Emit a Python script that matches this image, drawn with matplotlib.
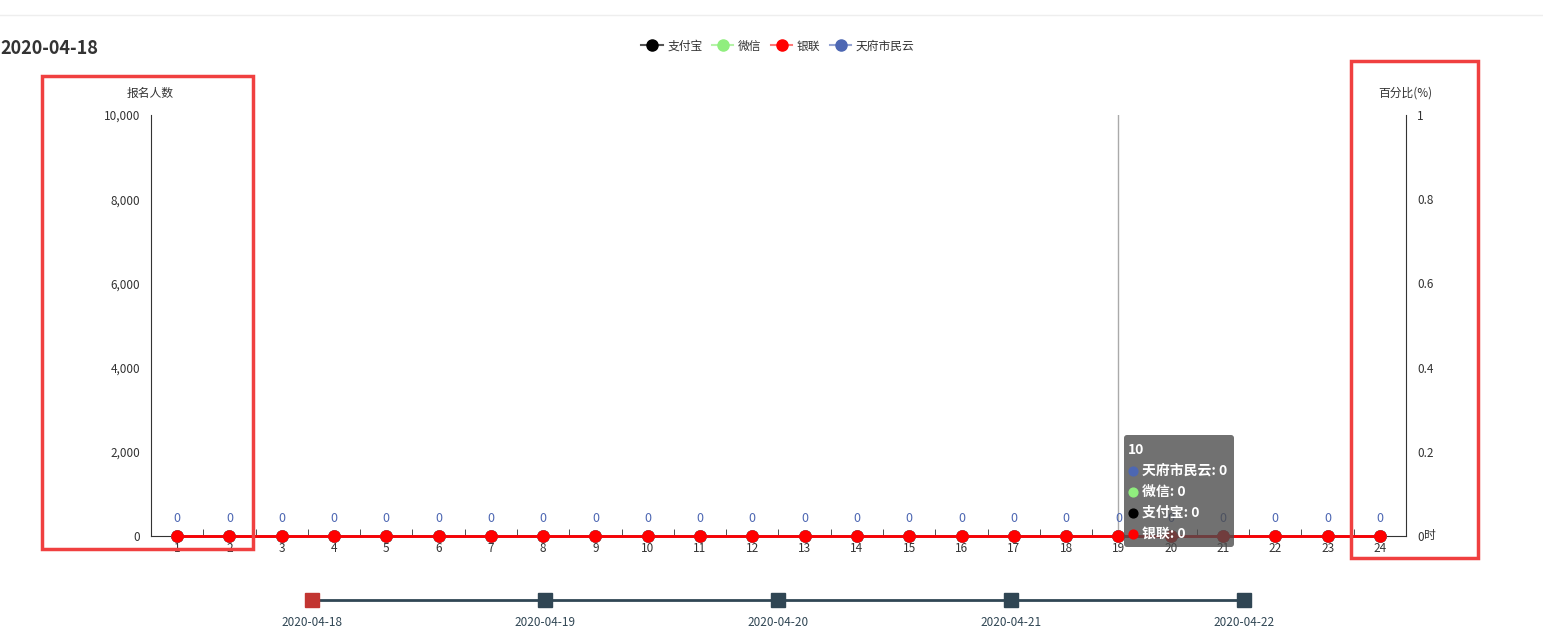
import matplotlib
matplotlib.use("Agg")
import matplotlib.pyplot as plt
from matplotlib.patches import Rectangle, FancyBboxPatch
from matplotlib.lines import Line2D

plt.rcParams['font.family'] = ['Noto Sans CJK SC', 'DejaVu Sans']

hours = list(range(1, 25))
alipay = [0]*24
wechat = [0]*24
unionpay = [0]*24
tianfu = [0]*24
series = [("支付宝", alipay, "#000000"), ("微信", wechat, "#90ee7e"),
          ("天府市民云", tianfu, "#4d67b3"), ("银联", unionpay, "#ff0000")]
legend_order = ["支付宝", "微信", "银联", "天府市民云"]
dates = ["2020-04-18", "2020-04-19", "2020-04-20", "2020-04-21", "2020-04-22"]
title = "2020-04-18"

W, H = 1543, 640
fig = plt.figure(figsize=(W/100, H/100), dpi=100)
ax = fig.add_axes([151/W, 1-536/H, 1255/W, 421/H])
ax.set_xlim(0.5, 24.5)
ax.set_ylim(0, 10000)
colors = {}
for name, vals, c in series:
    colors[name] = c
    ax.plot(hours, vals, color=c, lw=2, marker='o', ms=8, label=name, zorder=3, clip_on=False)
for x, v in zip(hours, tianfu):
    ax.annotate(str(v), (x, v), xytext=(0, 8), textcoords='offset points', ha='center',
                va='bottom', color='#4d67b3', fontsize=9)
ax.set_xticks(hours)
ax.set_xticks([h+0.5 for h in range(0, 25)], minor=True)
ax.tick_params(axis='x', which='major', length=0, labelsize=8.5, colors='#333', pad=4)
ax.tick_params(axis='x', which='minor', length=5, direction='in', color='#333')
ax.set_yticks(range(0, 10001, 2000))
ax.set_yticklabels([f"{v:,}" for v in range(0, 10001, 2000)])
ax.tick_params(axis='y', length=0, labelsize=8.5, colors='#333', pad=8)
for s in ['top', 'right']:
    ax.spines[s].set_visible(False)
ax.spines['left'].set_color('#333')
ax.spines['bottom'].set_color('#333')
ax.axvline(19, color='#aaa', lw=1, zorder=1)

ax2 = ax.twinx()
ax2.set_ylim(0, 1)
ax2.set_yticks([0, 0.2, 0.4, 0.6, 0.8, 1])
ax2.set_yticklabels(["0", "0.2", "0.4", "0.6", "0.8", "1"])
ax2.tick_params(axis='y', length=0, labelsize=8.5, colors='#333', pad=8)
for s in ['top', 'left', 'bottom']:
    ax2.spines[s].set_visible(False)
ax2.spines['right'].set_color('#333')

fig.text(127/W, 1-93/H, "报名人数", fontsize=8.5, color='#333', va='center')
fig.text(1378/W, 1-93/H, "百分比(%)", fontsize=8.5, color='#333', va='center')
fig.text(1424/W, 1-536/H, "时", fontsize=8.5, color='#333', va='center')
fig.text(0, 1-48/H, title, fontsize=13, fontweight='bold', color='#333', va='center')

light = {"支付宝": "#555555", "微信": "#b5f3a8", "银联": "#ff7777", "天府市民云": "#95a4d3"}
handles = [Line2D([0], [0], color=light[n], lw=1.5, marker='o', ms=8,
                  markerfacecolor=colors[n], markeredgecolor=colors[n]) for n in legend_order]
fig.legend(handles, legend_order, loc='center', bbox_to_anchor=(778/W, 1-46/H),
           ncol=4, frameon=False, fontsize=8.5, handlelength=1.8, columnspacing=0.8, handletextpad=0.4,
           labelcolor='#333')

fig.add_artist(plt.Line2D([0, 1], [1-15/H, 1-15/H], color='#eee', lw=1))

tl = fig.add_axes([0, 0, 1, 1], facecolor='none')
tl.set_xlim(0, W); tl.set_ylim(H, 0); tl.axis('off')
xs = [312, 545, 778, 1011, 1244]
tl.plot([xs[0], xs[-1]], [600, 600], color='#304654', lw=2)
for i, (x, d) in enumerate(zip(xs, dates)):
    tl.add_patch(Rectangle((x-7, 593), 14, 14, color='#c23531' if i == 0 else '#304654', zorder=3))
    tl.text(x, 623, d, ha='center', va='center', fontsize=8.5, color='#304654')

tl.add_patch(Rectangle((42, 76), 211, 473, fill=False, ec='#f04040', lw=2.5))
tl.add_patch(Rectangle((1351, 61), 127, 497, fill=False, ec='#f04040', lw=2.5))

tl.add_patch(FancyBboxPatch((1124, 435), 110, 112, boxstyle="round,pad=0,rounding_size=3",
                            fc=(0.3, 0.3, 0.3, 0.8), ec='none', zorder=5))
tl.text(1128, 450, "10", color='white', fontsize=10, fontweight='bold', va='center', zorder=6)
rows = [("天府市民云: 0", '#4d67b3'), ("微信: 0", '#90ee7e'), ("支付宝: 0", '#000000'), ("银联: 0", '#ff0000')]
for i, (t, c) in enumerate(rows):
    y = 471 + i*21
    tl.scatter([1133], [y], s=40, color=c, zorder=6)
    tl.text(1142, y, t, color='white', fontsize=10, fontweight='bold', va='center', zorder=6)

fig.savefig("out.png", dpi=100)
